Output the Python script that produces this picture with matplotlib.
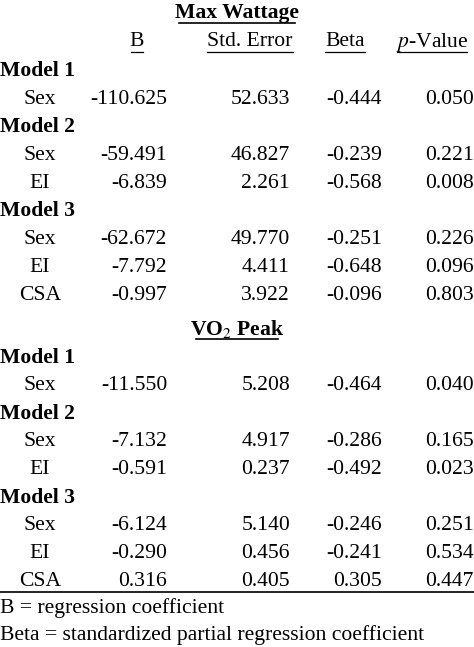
import matplotlib
matplotlib.use("Agg")
import matplotlib.pyplot as plt
from matplotlib.lines import Line2D

W, H = 474, 647
fig = plt.figure(figsize=(W/100, H/100), dpi=100)
plt.rcParams['font.family'] = ['Liberation Serif', 'DejaVu Serif']
plt.rcParams['mathtext.fontset'] = 'stix'
FS = 15.6

headers = ["B", "Std. Error", "Beta", "$\\it{p}$-Value"]
sections = ["Max Wattage", "VO$_2$ Peak"]
models = [
    ("Model 1", [("Sex", ["-110.625", "52.633", "-0.444", "0.050"])]),
    ("Model 2", [("Sex", ["-59.491", "46.827", "-0.239", "0.221"]),
                 ("EI", ["-6.839", "2.261", "-0.568", "0.008"])]),
    ("Model 3", [("Sex", ["-62.672", "49.770", "-0.251", "0.226"]),
                 ("EI", ["-7.792", "4.411", "-0.648", "0.096"]),
                 ("CSA", ["-0.997", "3.922", "-0.096", "0.803"])]),
]
models2 = [
    ("Model 1", [("Sex", ["-11.550", "5.208", "-0.464", "0.040"])]),
    ("Model 2", [("Sex", ["-7.132", "4.917", "-0.286", "0.165"]),
                 ("EI", ["-0.591", "0.237", "-0.492", "0.023"])]),
    ("Model 3", [("Sex", ["-6.124", "5.140", "-0.246", "0.251"]),
                 ("EI", ["-0.290", "0.456", "-0.241", "0.534"]),
                 ("CSA", ["0.316", "0.405", "0.305", "0.447"])]),
]
notes = ["B = regression coefficient",
         "Beta = standardized partial regression coefficient"]

def T(x, y, s, ha="left", bold=False):
    return fig.text(x/W, 1 - y/H, s, ha=ha, va="center", fontsize=FS,
                    fontweight="bold" if bold else "normal")

col_right = [167, 290, 382, 474]
head_x = [137, 250, 345, 432]

def section(title, y0, mods, header):
    y = y0
    T(237, y, title, ha="center", bold=True)
    tw = 116 if "Max" in title else 82
    fig.add_artist(Line2D([(237-tw/2)/W, (237+tw/2)/W], [1-(y+10)/H]*2, color="black", lw=1.2))
    y += 29
    if header:
        for hx, h in zip(head_x, headers):
            T(hx, y, h, ha="center")
            w = {"B": 12, "Std. Error": 86, "Beta": 40}.get(h, 70)
            fig.add_artist(Line2D([(hx-w/2)/W, (hx+w/2)/W], [1-(y+10)/H]*2, color="black", lw=0.9))
        y += 29
    for m, rows in mods:
        T(0, y, m, bold=True)
        y += 28
        for lab, vals in rows:
            T(40, y, lab, ha="center")
            for cx, v in zip(col_right, vals):
                T(cx, y, v, ha="right")
            y += 28
    return y

y = section(sections[0], 13, models, True)
y = section(sections[1], y + 6, models2, False)
fig.add_artist(Line2D([0, 1], [1-592/H]*2, color="black", lw=1.2))
T(0, 608, notes[0])
T(0, 635, notes[1])
fig.savefig("out.png", dpi=100, facecolor="white")
